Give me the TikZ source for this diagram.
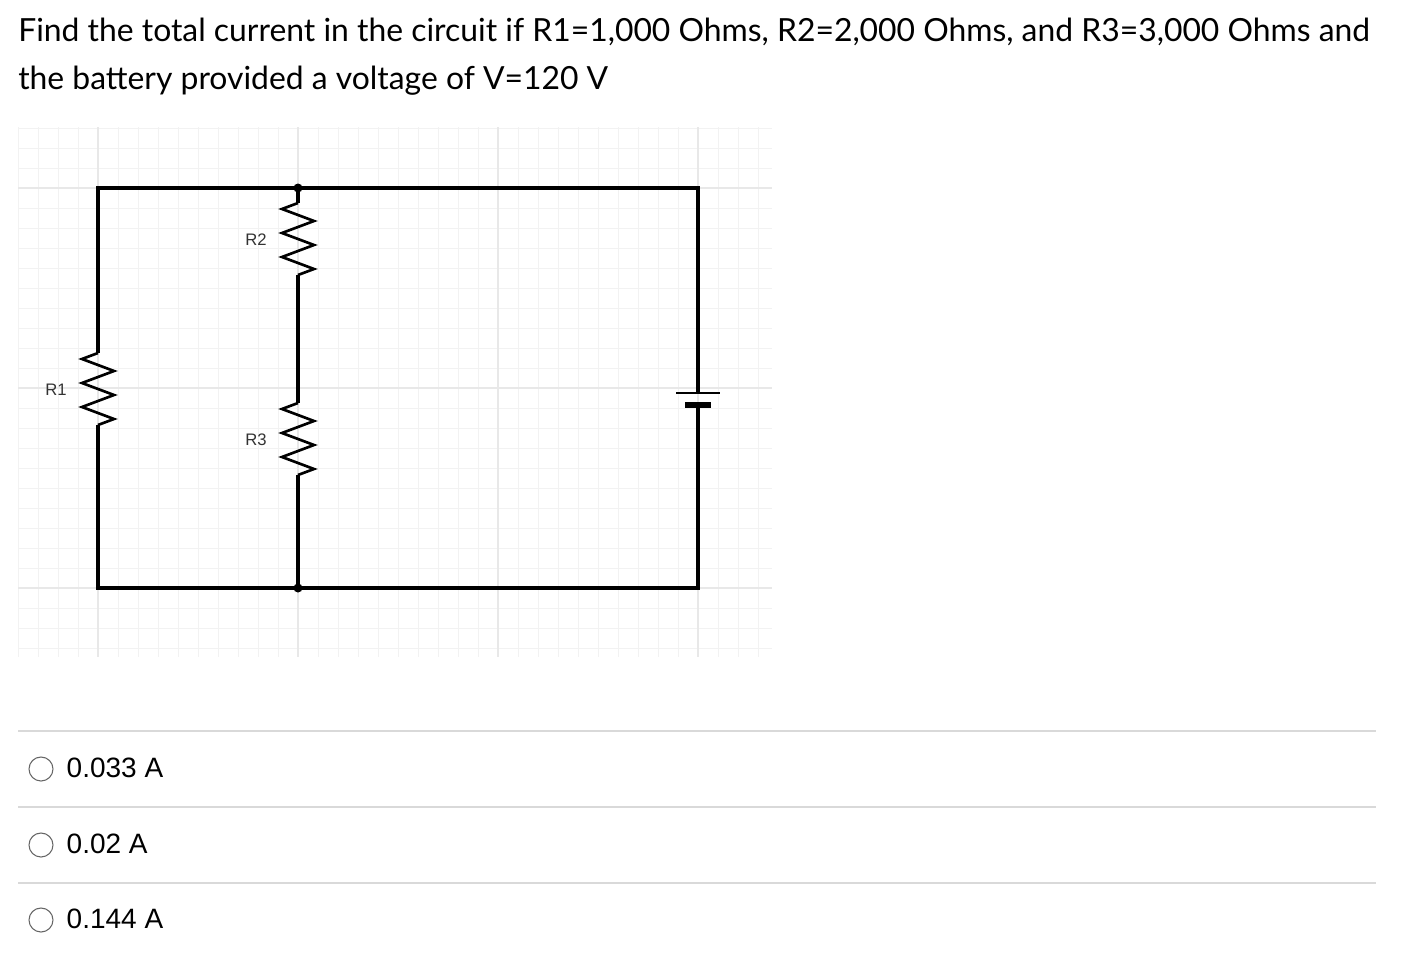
\documentclass[tikz,border=0pt]{standalone}
\usepackage{fontspec}
\setmainfont{Lato}
\newfontfamily\arialf{Liberation Sans}
\begin{document}
\begin{tikzpicture}[x=0.75pt,y=-0.75pt,
  wire/.style={line width=2.3pt,line join=miter},
  minorg/.style={draw=black!5,line width=0.6pt},
  majorg/.style={draw=black!9,line width=0.8pt},
  lbl/.style={font=\arialf\fontsize{12.5}{14}\selectfont,text=black!80},
  sep/.style={draw=black!15,line width=0.9pt},
  opt/.style={font=\arialf\fontsize{21}{24}\selectfont,anchor=west},
  radio/.style={draw=black!60,line width=0.8pt}]
\useasboundingbox (0,0) rectangle (1404,968);
\fill[white] (0,0) rectangle (1404,968);
\node[anchor=base west,inner sep=0,font=\fontsize{23.9}{28}\selectfont] (q1) at (18,41) {Find the total current in the circuit if R1=1,000 Ohms, R2=2,000 Ohms, and R3=3,000 Ohms and};
\node[anchor=base west,inner sep=0,font=\fontsize{23.9}{28}\selectfont] (q2) at (18,89) {the battery provided a voltage of V=120 V};
% grid
\foreach \x in {18,38,...,772} \draw[minorg] (\x,127) -- (\x,657);
\foreach \y in {128,148,...,657} \draw[minorg] (18,\y) -- (772,\y);
\foreach \x in {98,298,...,772} \draw[majorg] (\x,127) -- (\x,657);
\foreach \y in {188,388,...,657} \draw[majorg] (18,\y) -- (772,\y);
% nodes
\coordinate (tl) at (98,188); \coordinate (tm) at (298,188); \coordinate (tr) at (698,188);
\coordinate (bl) at (98,588); \coordinate (bm) at (298,588); \coordinate (br) at (698,588);
\coordinate (r1a) at (98,353); \coordinate (r1b) at (98,425);
\coordinate (r2a) at (298,203); \coordinate (r2b) at (298,275);
\coordinate (r3a) at (298,403); \coordinate (r3b) at (298,475);
\coordinate (bta) at (698,393); \coordinate (btb) at (698,405);
\draw[wire] (r1a) -- (tl) -- (tm) -- (tr) -- (bta);
\draw[wire] (r1b) -- (bl) -- (bm) -- (br) -- (btb);
\draw[wire] (tm) -- (r2a); \draw[wire] (r2b) -- (r3a); \draw[wire] (r3b) -- (bm);
\foreach \r in {r1a,r2a,r3a}{
 \draw[wire,line width=2pt] (\r) -- ++(-16,6) -- ++(32,12) -- ++(-32,12) -- ++(32,12) -- ++(-32,12) -- ++(32,12) -- ++(-16,6);}
\draw[line width=2pt] (676,393) -- (720,393);
\draw[line width=4pt] (685,405) -- (711,405);
\fill (tm) circle (4.5); \fill (bm) circle (4.5);
\node[lbl] (l1) at (56,390) {R1};
\node[lbl] (l2) at (256,240) {R2};
\node[lbl] (l3) at (256,440) {R3};
% options
\foreach \y in {731,807,883} \draw[sep] (18,\y) -- (1376,\y);
\draw[radio] (41,769) circle (12); \node[opt] (o1) at (62,768) {0.033 A};
\draw[radio] (41,845) circle (12); \node[opt] (o2) at (62,844) {0.02 A};
\draw[radio] (41,920) circle (12); \node[opt] (o3) at (62,919) {0.144 A};
\end{tikzpicture}
\end{document}
